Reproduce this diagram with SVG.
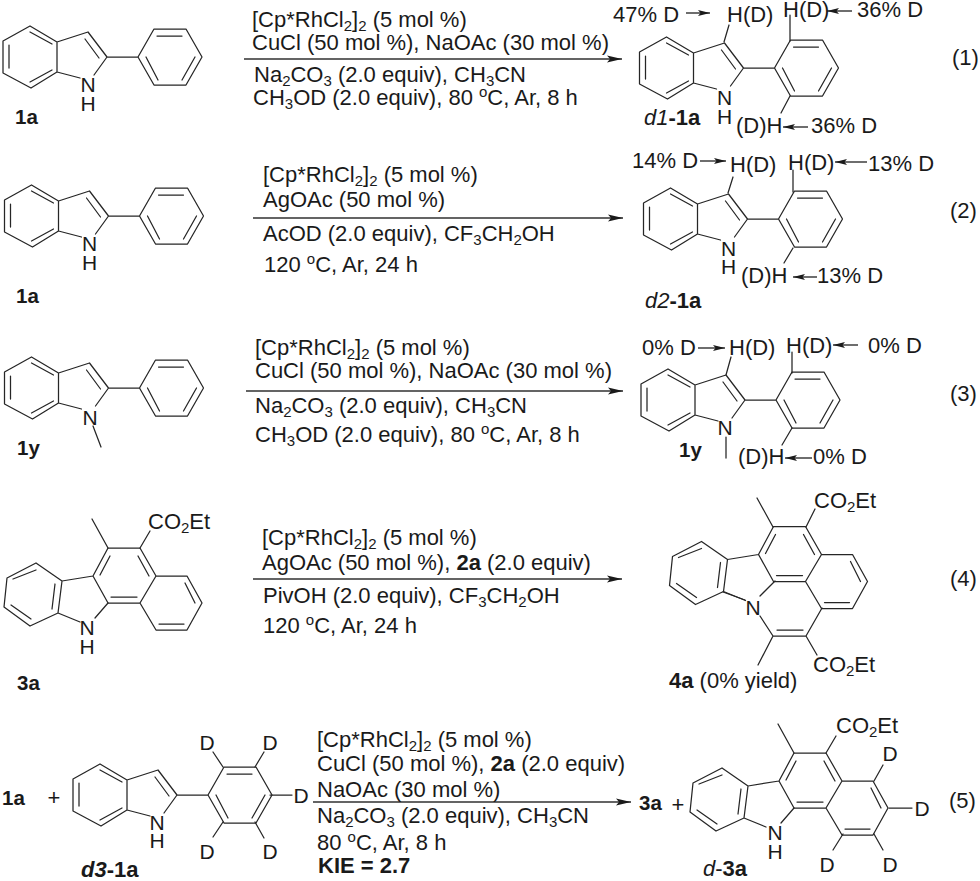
<svg xmlns="http://www.w3.org/2000/svg" width="980" height="881" viewBox="0 0 980 881">
<style>
text{font-family:"Liberation Sans",Arial,sans-serif;font-size:22px;fill:#1a1a1a}
.a{font-size:21px;text-anchor:middle}
.l{font-weight:bold;font-size:20.5px}
.c{text-anchor:middle}
.i{font-style:italic}
.bd{font-weight:bold}
.bonds{fill:none;stroke:#262626;stroke-width:1.25;stroke-linecap:round;stroke-linejoin:round}
.arr{fill:none;stroke:#303030;stroke-width:1.4}
.sub{font-size:15px}
</style>
<defs>
<marker id="ah" markerUnits="userSpaceOnUse" markerWidth="18" markerHeight="10" refX="15" refY="5" orient="auto"><path d="M0 1.5L15 5L0 8.5L3 5Z" fill="#1a1a1a"/></marker>
<marker id="ahs" markerUnits="userSpaceOnUse" markerWidth="16" markerHeight="10" refX="12" refY="4" orient="auto"><path d="M0 1L12 4L0 7L2.5 4Z" fill="#1a1a1a"/></marker>
<path id="indole" d="M3 41L30 26L57 42L57 72L31 88L3 73ZM9 45V68M30 32L52 44M30 82L52 70M57 42L88 32L107 57L94 75M85 39L99 58M57 72L80 78M107 57H138L154 29H186L202 57L186 85H154L138 57M157 36H182M195 57L182 80M146 57L158 80"/>
<path id="carb" d="M7 578L36 563L62 581L58 613L30 626L4 607ZM13 579L36 570M55 584L52 609M11 605L31 619M62 581L93 576L108 548H140L156 576L140 603H108L93 576M100 575L110 556M138 556L149 576M111 597H137M156 576H187L202 603L187 630H156L140 603M185 583L195 603M159 624H184M58 613L80 622"/>
</defs>
<g id="connectors" class="arr">
<path d="M244 59H622" marker-end="url(#ah)"/>
<path d="M253 218H623" marker-end="url(#ah)"/>
<path d="M246 391H623" marker-end="url(#ah)"/>
<path d="M253 579H622" marker-end="url(#ah)"/>
<path d="M313 802H631" marker-end="url(#ah)"/>
<path d="M686 13H710" marker-end="url(#ahs)"/>
<path d="M852 11H827" marker-end="url(#ahs)"/>
<path d="M808 127H783" marker-end="url(#ahs)"/>
<path d="M700 161H726" marker-end="url(#ahs)"/>
<path d="M867 162H835" marker-end="url(#ahs)"/>
<path d="M817 277H793" marker-end="url(#ahs)"/>
<path d="M698 348H725" marker-end="url(#ahs)"/>
<path d="M858 345H833" marker-end="url(#ahs)"/>
<path d="M812 458H785" marker-end="url(#ahs)"/>
</g>
<g id="node-1a-eq1">
<use href="#indole" class="bonds"/>
<text x="88" y="91.5" class="a">N</text><text x="88" y="110.5" class="a">H</text>
<text x="15" y="124" class="l">1a</text>
</g>
<g id="node-conditions-1">
<text x="252" y="27">[Cp*RhCl<tspan class="sub" dy="4">2</tspan><tspan dy="-4">]</tspan><tspan class="sub" dy="4">2</tspan><tspan dy="-4"> (5 mol %)</tspan></text>
<text x="252" y="50">CuCl (50 mol %), NaOAc (30 mol %)</text>
<text x="254" y="82">Na<tspan class="sub" dy="4">2</tspan><tspan dy="-4">CO</tspan><tspan class="sub" dy="4">3</tspan><tspan dy="-4"> (2.0 equiv), CH</tspan><tspan class="sub" dy="4">3</tspan><tspan dy="-4">CN</tspan></text>
<text x="253" y="105">CH<tspan class="sub" dy="4">3</tspan><tspan dy="-4">OD (2.0 equiv), 80 </tspan><tspan class="sub" dy="-8">o</tspan><tspan dy="8">C, Ar, 8 h</tspan></text>
</g>
<g id="node-d1-1a">
<use href="#indole" x="636.5" y="11" class="bonds"/>
<path class="bonds" d="M724 42L729 25M790 41V15M790 96L781 113"/>
<text x="724.5" y="104.5" class="a">N</text><text x="724.5" y="123.5" class="a">H</text>
<text x="613" y="22">47% D</text><text x="727" y="22">H(D)</text>
<text x="783" y="17">H(D)</text><text x="857" y="17">36% D</text>
<text x="736" y="133">(D)H</text><text x="811" y="133">36% D</text>
<text x="644" y="125"><tspan class="i">d1</tspan><tspan class="bd">-1a</tspan></text>
<text x="952" y="65">(1)</text>
</g>
<g id="node-1a-eq2">
<use href="#indole" x="1.5" y="159" class="bonds"/>
<text x="89.5" y="250.5" class="a">N</text><text x="89.5" y="269.5" class="a">H</text>
<text x="16" y="303" class="l">1a</text>
</g>
<g id="node-conditions-2">
<text x="263" y="182">[Cp*RhCl<tspan class="sub" dy="4">2</tspan><tspan dy="-4">]</tspan><tspan class="sub" dy="4">2</tspan><tspan dy="-4"> (5 mol %)</tspan></text>
<text x="263" y="207">AgOAc (50 mol %)</text>
<text x="263" y="241">AcOD (2.0 equiv), CF<tspan class="sub" dy="4">3</tspan><tspan dy="-4">CH</tspan><tspan class="sub" dy="4">2</tspan><tspan dy="-4">OH</tspan></text>
<text x="264" y="272">120 <tspan class="sub" dy="-8">o</tspan><tspan dy="8">C, Ar, 24 h</tspan></text>
</g>
<g id="node-d2-1a">
<use href="#indole" x="640.5" y="162" class="bonds"/>
<path class="bonds" d="M728 193L733 177M793 192V170M793 248L784 263"/>
<text x="728.5" y="255.5" class="a">N</text><text x="728.5" y="274" class="a">H</text>
<text x="632" y="168">14% D</text><text x="730" y="172">H(D)</text>
<text x="788" y="170">H(D)</text><text x="868" y="171">13% D</text>
<text x="741" y="283">(D)H</text><text x="817" y="283">13% D</text>
<text x="645" y="308"><tspan class="i">d2</tspan><tspan class="bd">-1a</tspan></text>
<text x="950" y="218">(2)</text>
</g>
<g id="node-1y-eq3">
<use href="#indole" x="1.5" y="331" class="bonds"/>
<path class="bonds" d="M93 426L101 447"/>
<text x="90" y="424.5" class="a">N</text>
<text x="17" y="455" class="l">1y</text>
</g>
<g id="node-conditions-3">
<text x="255" y="355">[Cp*RhCl<tspan class="sub" dy="4">2</tspan><tspan dy="-4">]</tspan><tspan class="sub" dy="4">2</tspan><tspan dy="-4"> (5 mol %)</tspan></text>
<text x="255" y="378">CuCl (50 mol %), NaOAc (30 mol %)</text>
<text x="255" y="413">Na<tspan class="sub" dy="4">2</tspan><tspan dy="-4">CO</tspan><tspan class="sub" dy="4">3</tspan><tspan dy="-4"> (2.0 equiv), CH</tspan><tspan class="sub" dy="4">3</tspan><tspan dy="-4">CN</tspan></text>
<text x="255" y="442">CH<tspan class="sub" dy="4">3</tspan><tspan dy="-4">OD (2.0 equiv), 80 </tspan><tspan class="sub" dy="-8">o</tspan><tspan dy="8">C, Ar, 8 h</tspan></text>
</g>
<g id="node-1y-product">
<use href="#indole" x="638" y="343" class="bonds"/>
<path class="bonds" d="M726 375L731 357M792 373V352M792 428L782 445M726 437V458"/>
<text x="725" y="434.5" class="a">N</text>
<text x="642" y="355">0% D</text><text x="729" y="355">H(D)</text>
<text x="786" y="353">H(D)</text><text x="868" y="353">0% D</text>
<text x="738" y="464">(D)H</text><text x="813" y="464">0% D</text>
<text x="679" y="457" class="l">1y</text>
<text x="950" y="401">(3)</text>
</g>
<g id="node-3a-eq4">
<use href="#carb" class="bonds"/>
<path class="bonds" d="M108 603L95 618M108 548L92 519M140 548L150 531"/>
<text x="87" y="634.5" class="a">N</text><text x="87" y="653.5" class="a">H</text>
<text x="148" y="529">CO<tspan class="sub" dy="4">2</tspan><tspan dy="-4">Et</tspan></text>
<text x="17" y="690" class="l">3a</text>
</g>
<g id="node-conditions-4">
<text x="262" y="545">[Cp*RhCl<tspan class="sub" dy="4">2</tspan><tspan dy="-4">]</tspan><tspan class="sub" dy="4">2</tspan><tspan dy="-4"> (5 mol %)</tspan></text>
<text x="262" y="570">AgOAc (50 mol %), <tspan class="bd">2a</tspan> (2.0 equiv)</text>
<text x="263" y="603">PivOH (2.0 equiv), CF<tspan class="sub" dy="4">3</tspan><tspan dy="-4">CH</tspan><tspan class="sub" dy="4">2</tspan><tspan dy="-4">OH</tspan></text>
<text x="263" y="633">120 <tspan class="sub" dy="-8">o</tspan><tspan dy="8">C, Ar, 24 h</tspan></text>
</g>
<g id="node-4a">
<use href="#carb" x="665.5" y="-21.5" class="bonds"/>
<path class="bonds" d="M723 592L745 600M775 581L760 596M773 636L760 616M773 636H806L822 608M777 630H803M773 527L757 498M806 527L815 509M773 636L758 665M806 636L817 655"/>
<text x="753" y="614.5" class="a">N</text>
<text x="814" y="508">CO<tspan class="sub" dy="4">2</tspan><tspan dy="-4">Et</tspan></text>
<text x="813" y="672">CO<tspan class="sub" dy="4">2</tspan><tspan dy="-4">Et</tspan></text>
<text x="669" y="688"><tspan class="bd">4a</tspan> (0% yield)</text>
<text x="950" y="586">(4)</text>
</g>
<g id="node-1a-eq5"><text x="2" y="805" class="l">1a</text><text x="54" y="805" class="c">+</text></g>
<g id="node-d3-1a">
<use href="#indole" x="70" y="738" class="bonds"/>
<path class="bonds" d="M223 767L213 752M255 767L264 752M270 795H292M223 822L213 837M255 822L264 838"/>
<text x="157" y="829.5" class="a">N</text><text x="157" y="848" class="a">H</text>
<text x="207" y="749.5" class="a">D</text><text x="270" y="749.5" class="a">D</text><text x="301" y="803" class="a">D</text><text x="207" y="858.5" class="a">D</text><text x="270" y="858.5" class="a">D</text>
<text x="81" y="877" class="bd"><tspan class="i">d3</tspan>-1a</text>
</g>
<g id="node-conditions-5">
<text x="317" y="747">[Cp*RhCl<tspan class="sub" dy="4">2</tspan><tspan dy="-4">]</tspan><tspan class="sub" dy="4">2</tspan><tspan dy="-4"> (5 mol %)</tspan></text>
<text x="317" y="771">CuCl (50 mol %), <tspan class="bd">2a</tspan> (2.0 equiv)</text>
<text x="317" y="797">NaOAc (30 mol %)</text>
<text x="317" y="823">Na<tspan class="sub" dy="4">2</tspan><tspan dy="-4">CO</tspan><tspan class="sub" dy="4">3</tspan><tspan dy="-4"> (2.0 equiv), CH</tspan><tspan class="sub" dy="4">3</tspan><tspan dy="-4">CN</tspan></text>
<text x="317" y="850">80 <tspan class="sub" dy="-8">o</tspan><tspan dy="8">C, Ar, 8 h</tspan></text>
<text x="318" y="873" class="bd">KIE = 2.7</text>
</g>
<g id="node-3a-eq5"><text x="639" y="810" class="l">3a</text><text x="678" y="812" class="c">+</text></g>
<g id="node-d-3a">
<use href="#carb" x="686" y="205" class="bonds"/>
<path class="bonds" d="M794 808L781 823M794 753L778 724M826 753L836 736M874 781L883 765M889 808H912M874 834L883 850M843 834L833 850"/>
<text x="775" y="839.5" class="a">N</text><text x="775" y="859" class="a">H</text>
<text x="836" y="733">CO<tspan class="sub" dy="4">2</tspan><tspan dy="-4">Et</tspan></text>
<text x="890" y="760.5" class="a">D</text><text x="922" y="815.5" class="a">D</text><text x="890" y="871.5" class="a">D</text><text x="827" y="871.5" class="a">D</text>
<text x="703" y="876"><tspan class="i">d</tspan>-<tspan class="bd">3a</tspan></text>
<text x="949" y="808">(5)</text>
</g>
</svg>
